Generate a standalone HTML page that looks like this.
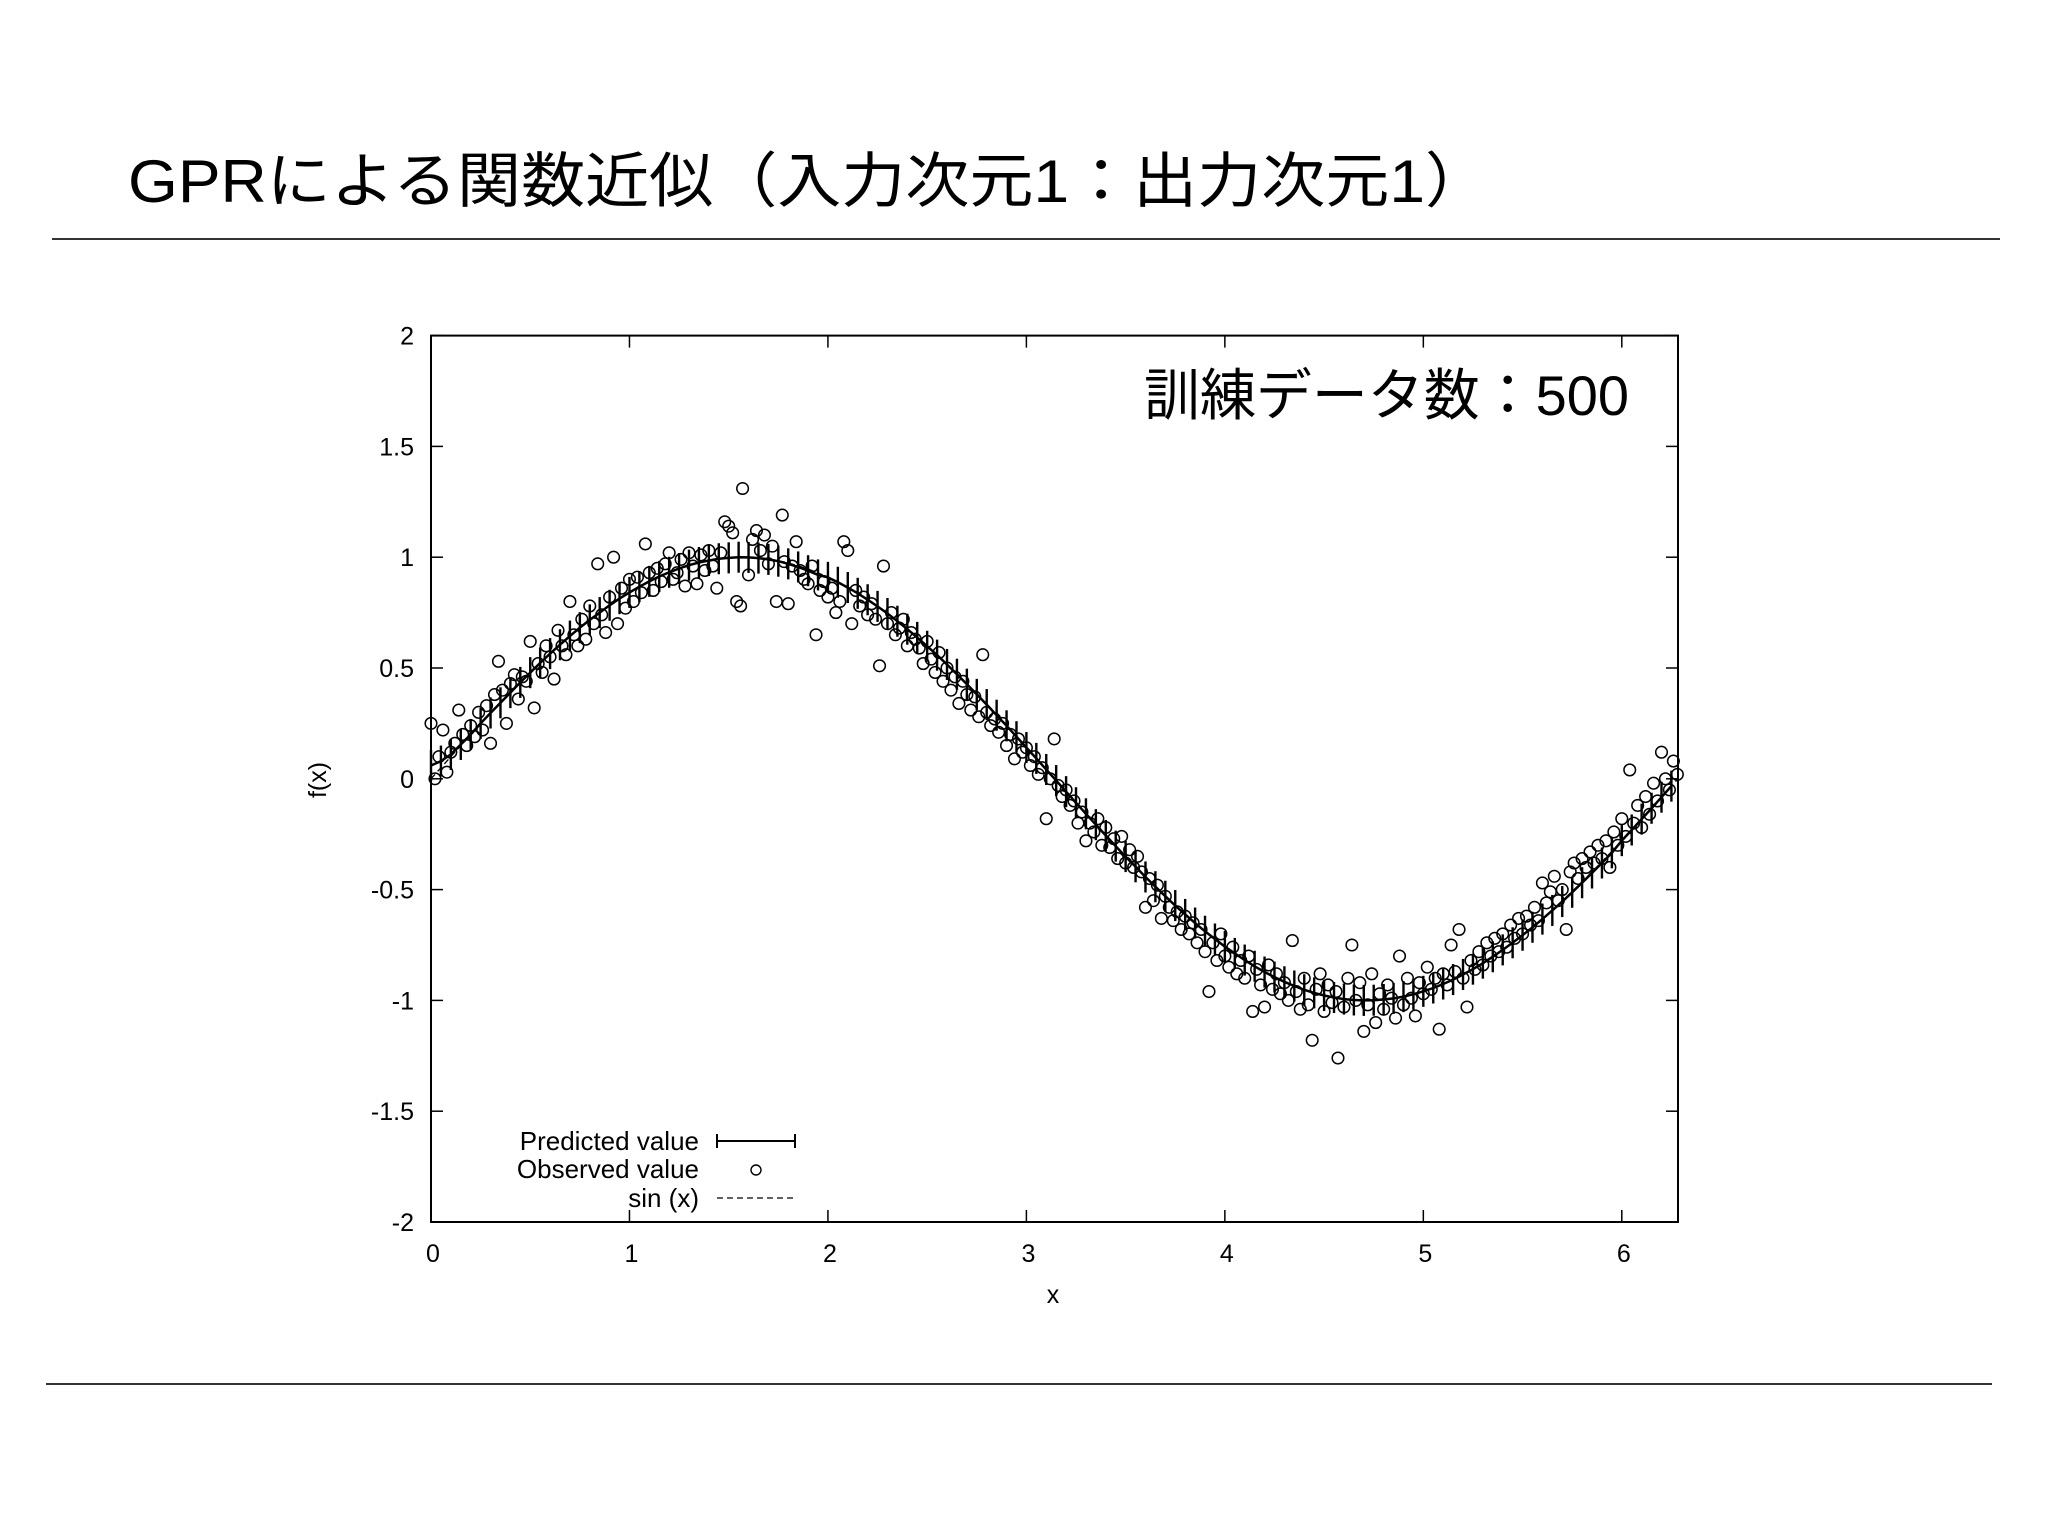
<!DOCTYPE html>
<html><head><meta charset="utf-8">
<style>
html,body{margin:0;padding:0;background:#fff;}
svg{display:block;}
text{font-family:"Liberation Sans","Noto Sans CJK JP",sans-serif;fill:#000;}
</style></head>
<body>
<svg id="chart" width="2048" height="1536" viewBox="0 0 2048 1536" xmlns="http://www.w3.org/2000/svg">
<text x="128" y="202" font-size="60" textLength="1361" lengthAdjust="spacingAndGlyphs">GPRによる関数近似（入力次元1：出力次元1）</text>
<line x1="52" y1="239" x2="2000" y2="239" stroke="#333" stroke-width="2"/>
<line x1="46" y1="1384" x2="1992" y2="1384" stroke="#333" stroke-width="2"/>
<g id="plot"></g>
<text x="1144" y="415" font-size="56" textLength="485" lengthAdjust="spacingAndGlyphs">訓練データ数：500</text>
<text x="1053" y="1303" font-size="25" text-anchor="middle">x</text>
<text x="0" y="0" font-size="25" text-anchor="middle" transform="translate(326,780) rotate(-90)">f(x)</text>
<g>
<text x="699" y="1150" font-size="26" text-anchor="end">Predicted value</text>
<line x1="717" y1="1141" x2="795" y2="1141" stroke="#000" stroke-width="2"/>
<line x1="717" y1="1134" x2="717" y2="1148" stroke="#000" stroke-width="2"/>
<line x1="795" y1="1134" x2="795" y2="1148" stroke="#000" stroke-width="2"/>
<text x="699" y="1178" font-size="26" text-anchor="end">Observed value</text>
<circle cx="756" cy="1170" r="5" fill="none" stroke="#000" stroke-width="1.4"/>
<text x="699" y="1207" font-size="26" text-anchor="end">sin (x)</text>
<line x1="717" y1="1198" x2="795" y2="1198" stroke="#000" stroke-width="1.3" stroke-dasharray="6,4"/>
</g>
</svg>
<script>
const xTicks=[0,1,2,3,4,5,6];
const yTicks=[-2,-1.5,-1,-0.5,0,0.5,1,1.5,2];
const yTickLabels=["-2","-1.5","-1","-0.5","0","0.5","1","1.5","2"];
const predStep=0.05;
const predY=[0.06,0.08,0.11,0.155,0.2,0.25,0.297,0.343,0.389,0.435,0.479,0.523,0.565,0.605,0.644,0.682,0.717,0.75,0.783,0.813,0.841,0.867,0.891,0.913,0.932,0.949,0.964,0.976,0.985,0.993,0.997,1.0,0.999,0.996,0.99,0.982,0.97,0.956,0.939,0.92,0.909,0.887,0.863,0.837,0.808,0.778,0.746,0.711,0.675,0.638,0.598,0.558,0.516,0.472,0.427,0.381,0.335,0.287,0.239,0.19,0.141,0.092,0.042,-0.008,-0.058,-0.108,-0.158,-0.207,-0.256,-0.304,-0.351,-0.397,-0.443,-0.487,-0.53,-0.572,-0.612,-0.651,-0.688,-0.723,-0.757,-0.788,-0.818,-0.846,-0.872,-0.895,-0.916,-0.935,-0.952,-0.966,-0.978,-0.987,-0.994,-0.998,-1.0,-0.999,-0.996,-0.991,-0.983,-0.972,-0.959,-0.944,-0.926,-0.906,-0.883,-0.859,-0.832,-0.803,-0.772,-0.74,-0.706,-0.67,-0.633,-0.594,-0.554,-0.512,-0.469,-0.425,-0.38,-0.334,-0.279,-0.231,-0.182,-0.133,-0.083,-0.033];
const predErr=0.07;
const obsX=[0,0.02,0.04,0.06,0.08,0.1,0.12,0.14,0.16,0.18,0.2,0.22,0.24,0.26,0.28,0.3,0.32,0.34,0.36,0.38,0.4,0.42,0.44,0.46,0.48,0.5,0.52,0.54,0.56,0.58,0.6,0.62,0.64,0.66,0.68,0.7,0.72,0.74,0.76,0.78,0.8,0.82,0.84,0.86,0.88,0.9,0.92,0.94,0.96,0.98,1,1.02,1.04,1.06,1.08,1.1,1.12,1.14,1.16,1.18,1.2,1.22,1.24,1.26,1.28,1.3,1.32,1.34,1.36,1.38,1.4,1.42,1.44,1.46,1.48,1.5,1.52,1.54,1.56,1.57,1.6,1.62,1.64,1.66,1.68,1.7,1.72,1.74,1.77,1.78,1.8,1.82,1.84,1.86,1.88,1.9,1.92,1.94,1.96,1.98,2,2.02,2.04,2.06,2.08,2.1,2.12,2.14,2.16,2.18,2.2,2.22,2.24,2.26,2.28,2.3,2.32,2.34,2.36,2.38,2.4,2.42,2.44,2.46,2.48,2.5,2.52,2.54,2.56,2.58,2.6,2.62,2.64,2.66,2.68,2.7,2.72,2.74,2.76,2.78,2.8,2.82,2.84,2.86,2.88,2.9,2.92,2.94,2.96,2.98,3,3.02,3.04,3.06,3.08,3.1,3.12,3.14,3.16,3.18,3.2,3.22,3.24,3.26,3.28,3.3,3.32,3.34,3.36,3.38,3.4,3.42,3.44,3.46,3.48,3.5,3.52,3.54,3.56,3.58,3.6,3.62,3.64,3.66,3.68,3.7,3.72,3.74,3.76,3.78,3.8,3.82,3.84,3.86,3.88,3.9,3.92,3.94,3.96,3.98,4,4.02,4.04,4.06,4.08,4.1,4.12,4.14,4.16,4.18,4.2,4.22,4.24,4.26,4.28,4.3,4.32,4.34,4.36,4.38,4.4,4.42,4.44,4.46,4.48,4.5,4.52,4.54,4.56,4.57,4.6,4.62,4.64,4.66,4.68,4.7,4.72,4.74,4.76,4.78,4.8,4.82,4.84,4.86,4.88,4.9,4.92,4.94,4.96,4.98,5,5.02,5.04,5.06,5.08,5.1,5.12,5.14,5.16,5.18,5.2,5.22,5.24,5.26,5.28,5.3,5.32,5.34,5.36,5.38,5.4,5.42,5.44,5.46,5.48,5.5,5.52,5.54,5.56,5.58,5.6,5.62,5.64,5.66,5.68,5.7,5.72,5.74,5.76,5.78,5.8,5.82,5.84,5.86,5.88,5.9,5.92,5.94,5.96,5.98,6,6.02,6.04,6.06,6.08,6.1,6.12,6.14,6.16,6.18,6.2,6.22,6.24,6.26,6.28];
const obsY=[0.25,0,0.1,0.22,0.03,0.12,0.16,0.31,0.2,0.15,0.24,0.19,0.3,0.22,0.33,0.16,0.38,0.53,0.4,0.25,0.43,0.47,0.36,0.46,0.44,0.62,0.32,0.52,0.48,0.6,0.55,0.45,0.67,0.6,0.56,0.8,0.65,0.6,0.72,0.63,0.78,0.7,0.97,0.74,0.66,0.82,1,0.7,0.86,0.77,0.9,0.8,0.91,0.84,1.06,0.93,0.85,0.95,0.89,0.97,1.02,0.9,0.93,0.99,0.87,1.02,0.96,0.88,1.01,0.94,1.03,0.96,0.86,1.02,1.16,1.14,1.11,0.8,0.78,1.31,0.92,1.08,1.12,1.03,1.1,0.97,1.05,0.8,1.19,0.98,0.79,0.96,1.07,0.94,0.9,0.88,0.96,0.65,0.85,0.89,0.82,0.86,0.75,0.8,1.07,1.03,0.7,0.85,0.78,0.82,0.74,0.79,0.72,0.51,0.96,0.7,0.75,0.65,0.68,0.72,0.6,0.66,0.63,0.59,0.52,0.62,0.54,0.48,0.57,0.44,0.5,0.4,0.46,0.34,0.44,0.38,0.31,0.37,0.28,0.56,0.3,0.24,0.27,0.21,0.25,0.15,0.2,0.09,0.18,0.12,0.14,0.06,0.1,0.02,0.05,-0.18,0,0.18,-0.03,-0.08,-0.05,-0.12,-0.1,-0.2,-0.15,-0.28,-0.2,-0.24,-0.18,-0.3,-0.22,-0.31,-0.27,-0.36,-0.26,-0.38,-0.32,-0.4,-0.35,-0.42,-0.58,-0.45,-0.55,-0.48,-0.63,-0.53,-0.58,-0.64,-0.6,-0.68,-0.62,-0.7,-0.65,-0.74,-0.68,-0.78,-0.96,-0.74,-0.82,-0.7,-0.8,-0.85,-0.76,-0.88,-0.82,-0.9,-0.8,-1.05,-0.86,-0.93,-1.03,-0.84,-0.95,-0.88,-0.97,-0.92,-1,-0.73,-0.96,-1.04,-0.9,-1.02,-1.18,-0.95,-0.88,-1.05,-0.93,-1.01,-0.96,-1.26,-1.03,-0.9,-0.75,-1,-0.92,-1.14,-1.02,-0.88,-1.1,-0.97,-1.04,-0.93,-0.99,-1.08,-0.8,-1.02,-0.9,-0.99,-1.07,-0.92,-0.97,-0.85,-0.95,-0.9,-1.13,-0.88,-0.93,-0.75,-0.87,-0.68,-0.9,-1.03,-0.82,-0.86,-0.78,-0.84,-0.74,-0.8,-0.72,-0.78,-0.7,-0.76,-0.66,-0.72,-0.63,-0.7,-0.62,-0.66,-0.58,-0.64,-0.47,-0.56,-0.51,-0.44,-0.55,-0.5,-0.68,-0.42,-0.38,-0.45,-0.36,-0.4,-0.33,-0.38,-0.3,-0.36,-0.28,-0.4,-0.24,-0.3,-0.18,-0.26,0.04,-0.2,-0.12,-0.22,-0.08,-0.16,-0.02,-0.1,0.12,0,-0.05,0.08,0.02];

const L=431,R=1678,T=335.6,B=1222;
const xMin=0,xMax=6.2832,yMin=-2,yMax=2;
function X(v){return L+(v-xMin)/(xMax-xMin)*(R-L);}
function Y(v){return B-(v-yMin)/(yMax-yMin)*(B-T);}
const NS="http://www.w3.org/2000/svg";
const g=document.getElementById('plot');
function mk(tag,attrs,parent){const e=document.createElementNS(NS,tag);for(const k in attrs)e.setAttribute(k,attrs[k]);(parent||g).appendChild(e);return e;}

const frame=mk('rect',{x:L,y:T,width:R-L,height:B-T,fill:'none',stroke:'#000','stroke-width':2});



xTicks.forEach(t=>{
  const x=X(t);
  mk('line',{x1:x,y1:B,x2:x,y2:B-12,stroke:'#000','stroke-width':1.5});
  mk('line',{x1:x,y1:T,x2:x,y2:T+12,stroke:'#000','stroke-width':1.5});
  const tx=mk('text',{x:x+2,y:1262,'font-size':25,'text-anchor':'middle'});
  tx.textContent=String(t);
  
  
});
yTicks.forEach((t,i)=>{
  const y=Y(t);
  mk('line',{x1:L,y1:y,x2:L+12,y2:y,stroke:'#000','stroke-width':1.5});
  mk('line',{x1:R,y1:y,x2:R-12,y2:y,stroke:'#000','stroke-width':1.5});
  const tx=mk('text',{x:414,y:y+9,'font-size':25,'text-anchor':'end'});
  tx.textContent=yTickLabels[i];
  
  
});

let d='';
for(let i=0;i<=300;i++){const v=xMax*i/300;d+=(i?'L':'M')+X(v).toFixed(1)+' '+Y(Math.sin(v)).toFixed(1);}
const sinPath=mk('path',{d:d,fill:'none',stroke:'#000','stroke-width':1.3,'stroke-dasharray':'6,4'});



const pg=mk('g',{});


let pd='';
predY.forEach((v,i)=>{
  const x=X(i*predStep);
  const b=mk('line',{x1:x,y1:Y(v+predErr),x2:x,y2:Y(v-predErr),stroke:'#000','stroke-width':2.4},pg);
  
  
  pd+=(i?'L':'M')+x.toFixed(1)+' '+Y(v).toFixed(1);
});
mk('path',{d:pd,fill:'none',stroke:'#000','stroke-width':2.5},pg);

const og=mk('g',{});


obsX.forEach((xv,i)=>{
  const c=mk('circle',{cx:X(xv),cy:Y(obsY[i]),r:5.8,fill:'none',stroke:'#000','stroke-width':1.5},og);
  
  
});
</script>
</body></html>
